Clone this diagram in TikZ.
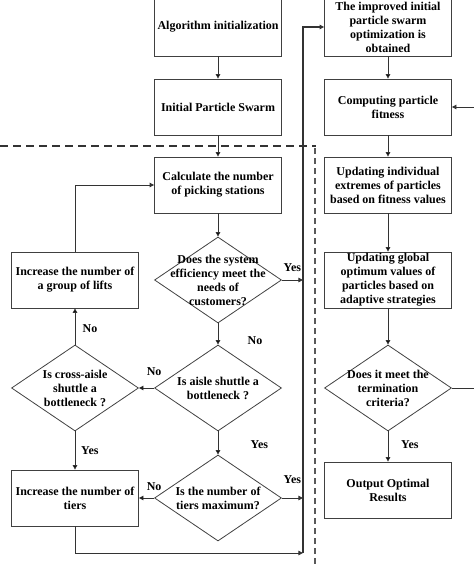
\documentclass[tikz,border=0pt]{standalone}
\usepackage{fontspec}
\setmainfont{Liberation Serif}
\usetikzlibrary{shapes.geometric,positioning,calc,arrows.meta}

\begin{document}
\begin{tikzpicture}[node distance=80pt,on grid,
    >={Triangle[length=4.5pt,width=4.5pt]},
    every node/.style={font=\bfseries\fontsize{12}{14}\selectfont},
    box/.style={draw=black!75, line width=0.8pt, minimum width=127pt, minimum height=56pt, align=center, inner sep=1pt},
    decision/.style={diamond, draw=black!75, line width=0.8pt, minimum width=127pt, minimum height=86pt, inner sep=0pt},
    flow/.style={draw=black!80, line width=0.8pt},
    region/.style={draw=black!80, line width=1.2pt}]

    \useasboundingbox (0,0) rectangle (474pt,-568pt);

    % left column of the flow
    \node[box, minimum height=58pt] (alg_init) at (218pt,-27pt) {Algorithm initialization};
    \node[box] (init_swarm) [below=80pt of alg_init] {Initial Particle Swarm};
    \node[box] (calc_stations) [below=78pt of init_swarm] {Calculate the number\\of picking stations};
    \node[decision, label={[align=center]center:Does the system\\efficiency meet the\\needs of\\customers?}] (q_eff) [below=95pt of calc_stations] {};
    \node[decision, label={[align=center]center:Is aisle shuttle a\\bottleneck ?}] (q_aisle) [below=108pt of q_eff] {};
    \node[decision, label={[align=center]center:Is the number of\\tiers maximum?}] (q_tiers) [below=110pt of q_aisle] {};

    \node[box] (add_lifts) [left=143pt of q_eff] {Increase the number of\\a group of lifts};
    \node[decision, label={[align=center]center:Is cross-aisle\\shuttle a\\bottleneck ?}] (q_cross) [left=143pt of q_aisle] {};
    \node[box] (add_tiers) [left=143pt of q_tiers] {Increase the number of\\tiers};

    % right column: particle swarm
    \node[box, minimum height=58pt] (pso_init) [right=170pt of alg_init] {The improved initial\\particle swarm\\optimization is\\obtained};
    \node[box] (fitness) [right=170pt of init_swarm] {Computing particle\\fitness};
    \node[box] (pbest) [right=170pt of calc_stations] {Updating individual\\extremes of particles\\based on fitness values};
    \node[box] (gbest) [right=170pt of q_eff] {Updating global\\optimum values of\\particles based on\\adaptive strategies};
    \node[decision, label={[align=center]center:Does it meet the\\termination\\criteria?}] (q_stop) [right=170pt of q_aisle] {};
    \node[box] (output) [below=102pt of q_stop] {Output Optimal\\Results};

    \coordinate (bend) at ($(q_tiers.east)+(21pt,-55pt)$);

    % region borders
    \draw[region, dash pattern=on 8pt off 5pt] (0,-146pt) -- (316pt,-146pt);
    \draw[region, black!65, dash pattern=on 6pt off 4pt] (315pt,-148pt) -- (315pt,-568pt);

    \path[->, flow]
    (alg_init) edge (init_swarm)
    (init_swarm) edge (calc_stations)
    (calc_stations) edge (q_eff)
    (q_eff) edge node[pos=0.8, right=26pt] {No} (q_aisle)
    (q_aisle) edge node[pos=0.55, right=29pt] {Yes} (q_tiers)
    (q_aisle) edge node[pos=0, above=9pt] {No} (q_cross)
    (q_cross) edge node[pos=0.43, right=4pt] {No} (add_lifts)
    (q_cross) edge node[pos=0.5, right=2.5pt] {Yes} (add_tiers)
    (q_tiers) edge node[pos=0, above=4pt] {No} (add_tiers)

    (pso_init) edge (fitness)
    (fitness) edge (pbest)
    (pbest) edge (gbest)
    (gbest) edge (q_stop)
    (q_stop) edge node[pos=0.44, right=9.5pt] {Yes} (output);

    \draw[->, flow] (q_eff.east) -- node[above=5pt] {Yes} (q_eff.east -| bend);
    \draw[->, flow] (q_tiers.east) -- node[above=11pt] {Yes} (q_tiers.east -| bend);
    \draw[->, flow] (add_lifts.north) |- (calc_stations.west);
    \draw[->, flow] (add_tiers.south) |- (bend);
    \draw[->, flow, line width=1.2pt] (bend) |- (pso_init.west);
    \draw[->, flow] (q_stop.east) -- ++(26pt,0) |- (fitness.east);
\end{tikzpicture}
\end{document}
